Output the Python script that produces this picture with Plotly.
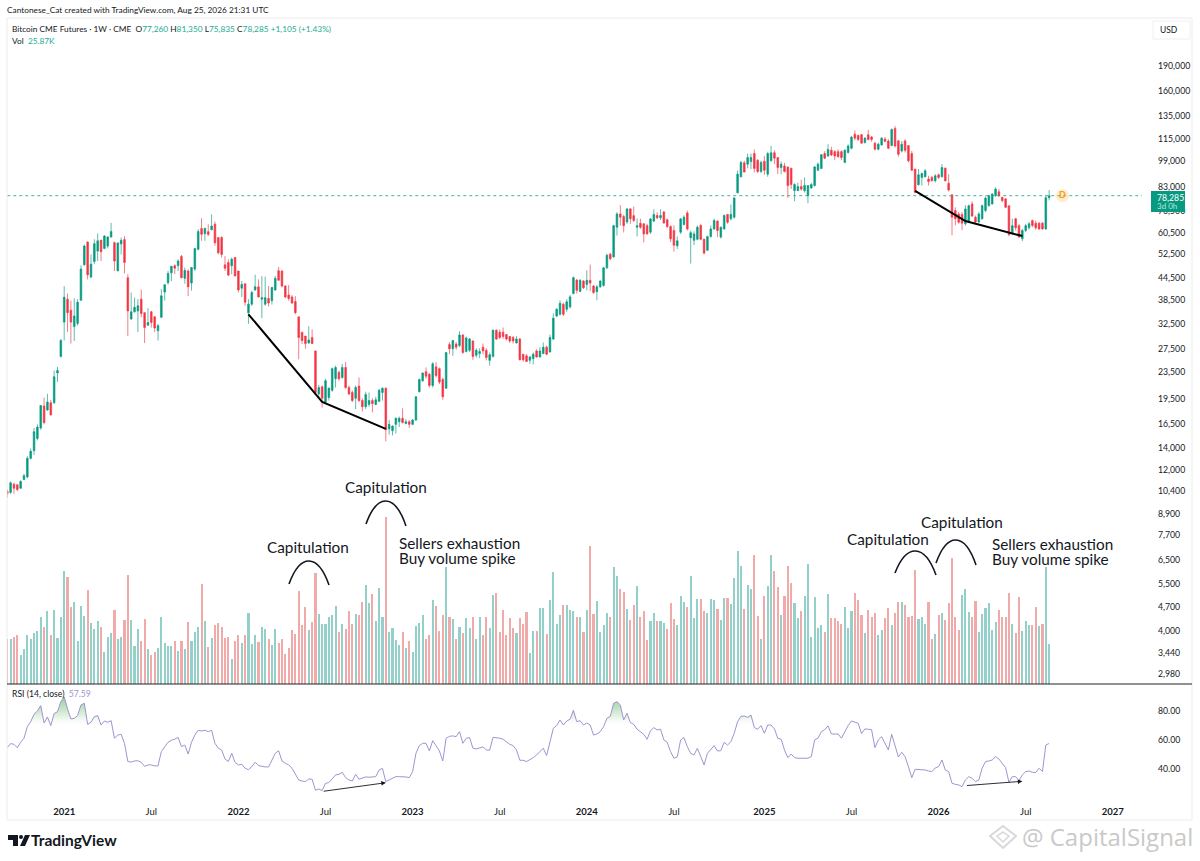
import pandas as pd
import plotly.graph_objects as go

W, H = 1200, 861

# weekly bars, prices in thousand USD
first_week = "2020-09-07"
open_k = [
    10.4,10.3,10.9,10.85,10.6,11.25,11.45,13.0,13.7,14.9,
    16.0,18.6,18.1,19.0,19.0,23.3,26.1,33.0,38.6,35.8,
    32.0,32.7,38.3,48.8,57.0,44.9,49.9,53.6,57.8,54.6,
    55.5,59.0,56.8,46.8,56.3,58.0,44.7,33.7,35.4,35.6,
    38.6,35.2,32.3,35.4,34.2,31.1,34.1,40.5,43.2,46.2,
    48.5,48.5,51.7,44.5,46.8,43.1,47.4,54.3,62.6,60.4,
    61.2,62.0,64.4,58.8,58.8,48.8,49.6,48.5,51.3,46.8,
    41.6,42.9,35.2,37.3,41.1,42.0,38.6,37.3,38.8,38.2,
    41.1,46.9,46.8,42.2,39.7,39.2,38.0,34.2,30.8,30.0,
    28.6,29.7,27.1,20.2,21.2,19.1,19.7,20.7,22.4,23.4,
    22.6,24.2,21.1,20.4,19.6,21.3,19.3,18.5,18.8,19.3,
    18.8,19.2,20.4,21.0,15.9,15.7,16.4,16.7,17.1,16.5,
    16.7,16.4,16.9,20.5,22.1,23.5,23.1,21.4,24.3,24,
    22.3,21.0,28.3,27.5,28.4,28.1,30.2,27.0,27.2,29.0,
    26.3,26.6,27.8,27.2,25.4,26.1,31.2,30.8,30.8,30.3,
    29.9,29.7,28.6,29.4,26.5,26.2,25.4,25.7,27.1,26.0,
    26.6,27.8,26.9,29.4,34.4,34.8,37.3,36.0,36.6,40.1,
    44.0,40.7,43.7,42.7,43.9,42.2,40.6,42,42.4,47.8,
    52.5,51.5,63.1,69.1,67.9,65.4,71.5,68.3,63.1,64.8,
    64.6,63.8,61,65.8,68.4,67.3,70,66.4,63.4,61.7,
    55.6,61,64.3,69.6,58.7,57.7,58.1,63.9,58.1,53.9,
    59.2,62.4,65.8,59,62.4,68.9,66.9,67.6,79.9,89.1,
    98,97.1,98.9,104.4,99.8,92.4,99,90.7,99.4,105,
    101.6,94.9,95.9,95.3,94.5,81,81,83.3,81,78.3,
    82.5,83.9,93.2,94.3,104.4,102.7,106.8,105.8,105.8,105.8,
    98.3,105.2,108.3,119.2,118.2,118.8,112.6,118.8,116.9,112,
    107.6,110.8,115.3,113.8,110.3,124,114,106.3,113.8,110.3,
    104.4,93.9,84.4,88.7,89.1,87.7,88.7,86.7,90.3,89.1,
    94.5,85.2,78.8,70.7,69.1,68.8,64.6,65.4,74,67.6,
    65.4,66.9,70.7,73.1,74,78.3,80.4,77.4,76.6,73.1,
    60.3,66.9,63.8,58.3,61.7,62.9,66.1,64.9,64.9,64.9,
    62.4,77.26,
]
high_k = [
    10.5,11.1,11.0,10.9,11.2,11.7,13.2,13.9,16.0,16.4,
    18.7,19.7,20.2,19.4,23.7,24.3,29.4,42.2,40.1,38.2,
    38.8,38.6,48.6,56.1,57.3,52.4,58.1,60.5,57.8,59.8,
    59.4,65.0,57.2,56.8,58.8,59.4,45.8,40.4,39.0,38.6,
    41.2,35.2,36.3,35.6,34.4,32.6,41.3,42.7,46.8,48.5,
    49,50.7,52.2,47.9,47.3,48.1,54.6,62.3,67.1,62.9,
    64.4,68.9,65.6,59,59.4,51.8,50.7,51.3,51.5,46.8,
    43.7,42.9,38.6,40.9,45.6,44.2,45.2,45.0,42.2,42.0,
    45.2,48.1,47.0,42.5,42.5,39.7,39.4,34.2,30.8,30.0,
    32.1,31.4,27.1,21.5,21.4,22.4,21.1,24.2,24.5,23.7,
    24.8,25.1,21.4,20.7,21.4,22.6,19.6,20.5,20.4,19.6,
    19.8,20.9,21.1,21.1,16.9,16.3,17.2,17.3,18.3,17.0,
    16.9,17.0,19.9,22.4,23.4,24.2,23.3,25.1,25.1,24.2,
    22.6,26.8,28.8,29.2,28.8,31.0,30.4,29.9,29.6,29.1,
    27.6,27.6,28.5,27.6,26.8,31.4,31.4,31.4,31.8,30.4,
    30.0,30.0,30,29.6,26.5,26.5,26.2,26.8,27.4,27.8,
    28.7,28.1,30.3,35.0,36.3,38.3,37.7,38.6,39.7,45.1,
    44.3,44.3,44,47,48.9,42.5,42.5,43.9,48.1,52.7,
    53,64.2,70,73.4,68.7,72,72,72.7,66.9,66.9,
    64.9,64.6,67.2,71.4,69.9,71.4,70.5,67,63.9,63.9,
    59.3,67.2,68.4,70.7,61.7,61.4,63.9,64.6,58.4,59.6,
    63.9,66.9,66.1,63.4,68.9,69.1,73.7,77.7,93,99.4,
    99.4,104.4,104.4,107.5,100.5,99.4,102.7,105.7,110,106.8,
    101.6,98.9,98,95.3,94.5,85.2,85.6,87.3,88.7,83.9,
    85.4,96,98.2,103.9,106.2,111.3,109.4,106.8,107.5,106.8,
    107.5,111.3,117.8,122.3,118.8,119.4,116.9,122.8,117.8,113.3,
    112.6,116.9,116.9,115.3,124,126,114,113.8,115.3,110.3,
    106.3,93.9,93.9,91.7,93.9,89.7,89.7,90.7,91.1,97.1,
    94.9,90.7,78.8,72.3,70,70,73.4,73.7,75.4,68.4,
    70,73.7,77.7,78.8,79.6,82.9,81.9,77.7,77,73.1,
    66.9,67.2,64.6,62.4,64.6,65.4,66.4,66.1,65.4,65.4,
    78.5,81.35,
]
low_k = [
    9.95,10.2,10.2,10.4,10.55,11.2,11.35,12.9,13.3,14.7,
    15.8,16.4,18.0,17.4,18.9,21.9,25.9,29.1,30.8,28.5,
    29.0,32.2,38.2,48.5,44.2,44.5,49.0,50.1,50.1,54.3,
    54.6,58.8,46.8,46.8,52.4,46.0,30.0,33.5,35.2,30.8,
    34.1,28.6,32.2,31.8,30.8,29.1,33.9,38.2,42.6,43.7,
    45.8,46.8,44.5,42.9,39.4,40.9,46.8,53.9,57.5,57.5,
    59.4,61.8,55.6,52.4,51.3,46.8,45.2,45.8,45.2,40.4,
    39.2,36.9,32.6,36.9,40.9,39.0,33.9,36.9,36.7,37.2,
    40.9,43.9,41.8,38.8,38.2,37.3,34.8,25.6,28.4,27.5,
    28.5,28.4,20.2,19.6,18.4,18.9,19.3,20.5,21.1,22.1,
    22.4,20.9,20.0,19.1,18.2,19.1,17.9,18.2,18.5,17.8,
    18.7,19.1,19.3,14.6,15.3,15.2,15.4,16.1,16.5,16.4,
    16.0,16.3,16.8,20.4,21.9,22.4,21.1,21.1,22.6,21.6,
    19.4,20.9,26.5,26.2,27.3,27.8,26.6,26.8,26.9,25.5,
    25.9,25.8,26.5,25.4,24.5,25.9,29.2,29.4,29.4,29.1,
    28.6,28.5,28.5,25.4,25.2,25.1,24.8,24.7,25.9,25.9,
    26.5,26.3,26.8,29.2,34.1,34.5,34.4,35.4,36.2,39.9,
    40.1,40.5,41.4,41,40.8,40,38.3,41.7,42,47.5,
    50.3,51.3,59.6,63.8,60.9,64.6,64.6,65.4,59.3,62.4,
    56.9,60,60.3,65.4,66.7,66.3,64.6,62.8,57,53.4,
    54.4,60.3,63.9,61.7,49.2,55.8,57.7,57.7,52.4,53.7,
    58.8,62,59,58.4,62,64.6,66.1,66.9,79.5,88.7,
    92,94.4,93.9,91.8,91.4,91.4,90.3,89.1,98.9,97.1,
    90.7,90.7,91.8,77.1,82,75.4,81,81,80,74.4,
    82,83.3,92.8,93.9,100.5,102,102.7,99.8,101.6,99.8,
    97.8,104.4,107.4,114.2,113.8,111.8,111.8,114.3,113.3,106.8,
    106.8,110.3,112.8,107.6,109.8,108.8,102.2,105.2,105.2,98.3,
    92.8,79.5,83.9,83.9,88.7,83.9,86.3,85.7,87.7,88.7,
    86.3,80.6,59.7,63.9,64.6,61.9,63.8,64.9,67.6,64.6,
    64.9,66.4,70,72.7,73.7,77.7,77.7,74.8,72,59.3,
    60,61.7,58.7,57.4,61,62,63.1,62,62,62,
    62,75.835,
]
close_k = [
    10.2,11.0,10.6,10.5,11.1,11.55,13.0,13.65,15.6,16.1,
    18.65,16.6,19.1,17.5,22.7,23.7,29.1,39.1,35.2,33.0,
    34.4,37.8,47.4,55.5,45.6,49.0,56.4,57.5,53.4,59.4,
    59.0,61.3,50.1,56.7,57.7,49.6,35.6,35.4,36.5,36.9,
    35.0,31.8,32.9,32.9,31.7,32.2,39.5,42.6,46.0,48.3,
    47.7,50.1,44.7,47.0,42,47.9,54.6,61.3,60.1,62.6,
    60.1,63.6,56.8,53.0,52.4,47.7,45.5,50.7,45.2,41.1,
    42.7,37.8,37.3,40.4,42.0,39.2,39.0,39.0,37.6,41.8,
    44.5,43.9,42.2,39.2,38.8,37.6,35.2,29.7,29.1,28.5,
    29.2,28.5,20.4,21.1,19.6,22.1,21,24.0,24.2,22.4,
    24.2,21.1,20.2,19.3,21.1,19.3,18.5,20.1,19.3,18.9,
    19.4,20.7,21.0,15.8,16.4,16.2,17.1,17.1,16.6,16.7,
    16.4,16.9,19.8,22.3,23.3,22.8,21.4,24.8,22.9,21.9,
    19.8,26.8,27.5,29.1,27.8,30.2,26.8,29.6,29.4,26.1,
    27.2,27,27.1,25.9,26.4,31.2,29.4,29.7,29.9,29.4,
    29.0,29.0,29.4,25.5,25.5,25.2,26.0,26.5,26.0,27.1,
    27.8,26.5,29.7,33.9,36.0,37.5,34.8,37.9,39.2,44.7,
    41.0,43.9,41.7,43.9,43.1,40.4,42,43.7,47.8,52.1,
    50.9,63.8,69.1,67.6,63.8,71.5,66.9,66.1,63.8,63.1,
    60.3,60.3,66.8,68.9,67.3,68.4,65,63.4,58.3,55.8,
    57.5,66.8,67.6,62.4,60.8,60.3,63.1,58.1,52.9,59.2,
    62.4,66.1,61.7,63.1,68.4,65.3,68.9,77,90.7,98.3,
    92,101.6,101.6,94.3,92.4,98.3,93.2,104.4,105,101.2,
    94.9,97.1,92.4,83.9,84.5,84.5,83.3,81.9,84,83.9,
    84.5,95.3,97.1,103.6,101.2,107.4,103.4,102.7,102.2,101.6,
    106.8,110,116.8,116,115,112.1,115.9,115,115,107.6,
    111.3,116,113.5,108.3,123,110,103.9,111.3,106.8,99.4,
    93.2,80.1,90.3,91.1,92.8,86.3,86.7,89.7,88.7,94.9,
    86.7,81.4,67.6,66.9,65.3,64.9,71.5,73.1,68.2,65.4,
    69.1,73.1,77,78.3,79.2,81.9,78.3,75.7,72.3,60,
    63.8,62.9,59,61.7,63.8,64.6,63.9,62.9,62.4,62.4,
    77.18,78.285,
]
# volume in thousands, t = teal bar, r = red bar
volume_k = [
    29,28.9,30.2,31.5,19,22.4,31.9,29.3,33.2,34.1,
    43.6,36.7,47.5,31.9,47.9,29.8,43.6,73.3,69,49.6,
    53.3,27.6,50.5,44,60.8,39.7,35.4,40.6,36.7,20.7,
    30.6,33.2,47.9,29.3,30.2,41.4,70.8,41.4,24.6,35.4,
    27.6,41.8,22.4,19,20.7,23.3,43.1,26.7,24.6,24.6,
    27.6,21.6,28,22.4,40.1,27.6,33.6,36.7,64.7,40.6,
    24.2,29.8,38,39.7,36.7,29.8,30.6,16.4,28,31.9,
    26.7,31.9,46.2,25.9,31.5,27.2,36.7,35.4,29.3,25,
    35.8,26.3,29.3,19.4,23.3,34.9,32.4,60,38.2,50,
    34.9,40.1,72,45.3,38.8,38.8,43.6,44.9,50.5,33.6,
    38.8,35.8,47,38.8,45.3,44.4,53.3,63.8,52.6,58.2,
    41,62.1,43.6,108,33.6,36.2,28.5,25.2,33.6,23.3,
    27.6,20.7,37.5,39.7,44.9,28.9,31.7,54.4,50.5,34.1,
    44.4,75.9,43.1,42.3,29.3,36.7,33.2,42.7,36.2,43.1,
    29.3,43.1,31.5,43.1,36.2,57.4,59.1,33.6,47.9,31.5,
    42.7,36.2,32.8,42.7,38.8,46.6,19.8,34.5,34.1,49,
    49.2,32.4,54.4,72.5,38.8,44.9,50.9,50.9,47.9,47,
    43.1,43.6,33.6,47.9,89.3,45.3,53.5,33.6,38,46.2,
    43.6,75.9,69.9,61.3,59.5,48.3,41.4,50.9,63.4,43.6,
    47.5,28.5,40.6,45.7,41,40.6,39.7,35.4,52.6,41.8,
    38,56.9,53.1,49.6,69.9,42.7,55,55,47,46.2,
    55,54.6,48.7,41.4,55.4,55.6,51.8,68.8,86.3,76.4,
    48.3,63.8,61.3,83.5,44,29.3,56.9,63.4,83.5,73.3,
    63,44.9,56.9,76.4,65.1,52.2,42.7,47,56.9,77.7,
    30.2,56.1,36.2,38,33.6,58.2,42.7,42.7,40.6,38.8,
    49.6,36.2,47.5,59.1,54.4,44.9,32.8,47.9,43.6,45.7,
    31.5,34.9,42.7,49,38,45.7,52.8,53.1,50.9,43.1,
    44,73.8,42.3,43.1,38.8,52.8,28.9,32.4,44.6,45.7,
    41.4,52.2,81.5,43.6,34.9,57.4,61.3,46.6,43.6,53.5,
    33.6,45.3,49.2,52.2,34.9,40.1,47.9,43.1,43.1,58.7,
    38.8,32.8,56.5,34.1,41,38,38,49.6,37.5,38.8,
    75.9,25.87,
]
volume_side = (
    "rtrrtttttt" "trtrttttrr" "ttttrtttrt" "ttrttrrttt" "rrtrrttttt" "rtrtrtttrt"
    "rtrrrrrtrr" "trtttrttrt" "trrrrrrrrr" "trrttttttr" "trrrtrrttr" "tttrttttrt"
    "rttttrrtrr" "rtrtrtrttr" "ttrrttrrrr" "rrtrrrttrt" "trttttrttt" "rtrtrrtttt"
    "rttrrtrrtr" "rrttrttrrr" "tttrtttrrt" "ttrttrtttt" "rttrrtrttr" "rtrrrttrtt"
    "ttttrtrrrr" "tttrrrtrrr" "ttrrtrrtrr" "rrtttrrtrt" "rrrrrtttrr" "ttttttrrrr"
    "trrtttrrtr" "tt"
)
rsi = [
    54.7,57.5,57,54.7,58.4,61.2,69.2,72.6,77.7,80,
    83.7,71.7,75.9,69.9,78.2,79.5,86.4,89.7,81.4,74.5,
    74.9,76.8,84.1,85.3,70.8,72.2,76.1,76.8,70.3,73.1,
    72.2,73.3,61.2,63.4,63.9,57.7,45.1,44.8,45.5,45.7,
    44.6,41.8,42.8,42.8,42.1,42.1,52,55.4,58.4,59.8,
    60.5,61.8,55.4,56.5,50.3,58.4,63.4,66.7,66.2,66.7,
    65.7,66.7,57.7,54.3,53.1,46.9,45.1,50.8,44.6,42.8,
    43.2,40.5,39.5,41.6,44.6,42.3,41.6,41.4,41.4,46.2,
    50.8,52.6,45.5,43.9,42.8,40.5,36.3,32.4,31.7,31.3,
    33.1,32.9,25.3,26.2,25.1,30.1,30.6,33.6,35.9,36.3,
    37.7,34,32.4,31.7,36.3,32.9,33.6,34.5,34.3,34.3,
    34.7,39.3,40.4,31.3,32.4,33.1,34.7,34.7,34.7,34.5,
    34,38.2,50.8,56.1,57.7,57.7,52.4,59.5,56.1,52.4,
    45.5,61.2,62.5,62.8,62.3,65.7,57.7,61.2,61.6,54.3,
    53.8,54.3,55.2,53.1,52.9,61.8,61.6,61.2,60.5,58.9,
    57,56.1,53.1,46,46,45.1,46.2,47.8,49.6,51.9,
    54.3,49.2,57.7,68,69.9,73.8,70.3,73.1,74.3,80.5,
    72.6,73.3,70.3,71.7,70.3,63.4,64.1,65.7,69.2,74.9,
    76.3,85.3,86.4,84.1,73.8,78.4,72,70.8,67.4,65.7,
    63.9,60.5,66.4,68.5,66.9,67.4,60,58.4,51.9,47.4,
    48.3,60,61.6,55.4,50.8,49.7,54.3,48.5,42.8,50.8,
    53.8,56.1,52.4,52.6,58.4,56.5,58.8,64.6,72.6,76.3,
    76.5,75.6,77.2,68.5,67.4,69.9,64.6,70.3,70.3,67.6,
    61.2,60.5,53.1,47.8,50.3,47.8,47.4,47.4,47.4,47.4,
    48.5,60,61.2,65.7,67.1,69.7,64.1,64.1,64.1,61.2,
    65.7,69.9,73.1,72.2,71.5,64.4,67.6,67.4,67.1,54.7,
    60,62.3,57.7,53.1,63.9,56.5,48.3,51.5,48.5,41.6,
    34,39.8,39.8,39.5,39.3,38.6,38.2,40.7,41.6,46.2,
    39.3,38.2,30.1,29.4,29,27.8,32.4,34.7,33.6,31.3,
    32.4,40.5,45.1,45.5,46.2,48.5,46.9,43.9,40.9,30.8,
    34.7,34.7,32,35.9,38.2,38.6,37.7,37.5,40.5,38.2,
    56.5,57.59,
]

# hand drawn trend lines, bar index and price in USD
left_wedge_bars = [72, 94, 113]
left_wedge_price = [34800, 19130, 15900]
right_wedge_bars = [271, 286, 303]
right_wedge_price = [80900, 65850, 59400]

# hand drawn arrows on the RSI, bar index and RSI value
rsi_arrows = [((94, 24.5), (113, 30.5)), ((286, 28.5), (303, 31.5))]

price_ticks = [190000, 160000, 135000, 115000, 99000, 83000, 70500, 60500, 52500, 44500,
               38500, 32500, 27500, 23500, 19500, 16500, 14000, 12000, 10400, 8900,
               7700, 6500, 5500, 4700, 4000, 3440, 2980]
rsi_ticks = [80, 60, 40]
time_ticks = ["2021-01-04", "2021-07-05", "2022-01-03", "2022-07-04", "2023-01-02", "2023-07-03",
              "2024-01-01", "2024-07-01", "2025-01-06", "2025-07-07", "2026-01-05", "2026-07-06",
              "2027-01-04"]
time_labels = ["<b>2021</b>", "Jul", "<b>2022</b>", "Jul", "<b>2023</b>", "Jul",
               "<b>2024</b>", "Jul", "<b>2025</b>", "Jul", "<b>2026</b>", "Jul", "<b>2027</b>"]

UP = "#089981"
DOWN = "#f23645"
TEXT = "#131722"
RSI_LINE = "#a193d0"
FONT = "Lato, sans-serif"

dates = pd.date_range(first_week, periods=len(close_k), freq="7D")


def usd(values):
    return [v * 1000 for v in values]


def px_x(x):
    return x / W


def px_y(y):
    return 1 - y / H


def note(text, x, y, size=8.3, color=TEXT, anchor="left", family=FONT):
    # annotations carry about 2px of padding
    return dict(text=text, x=px_x(x - 2), y=px_y(y), xref="paper", yref="paper", showarrow=False,
                xanchor=anchor, yanchor="middle", font=dict(size=size, color=color, family=family),
                align="left")


def paper_path(path, fill=None, color=None, width=0):
    shape = dict(type="path", path=path, xref="paper", yref="paper", layer="above",
                 line=dict(color=color or "rgba(0,0,0,0)", width=width))
    if fill:
        shape["fillcolor"] = fill
    return shape


def poly(points):
    pts = ["%.5f,%.5f" % (px_x(x), px_y(y)) for x, y in points]
    return "M" + " L".join(pts) + " Z"


def arc(x0, y0, top, x1, y1):
    base = (y0 + y1) / 2
    cy = (top - 0.25 * base) / 0.75
    w = x1 - x0
    return paper_path(
        "M%.5f,%.5f C%.5f,%.5f %.5f,%.5f %.5f,%.5f" % (
            px_x(x0), px_y(y0), px_x(x0 + w * 0.28), px_y(cy),
            px_x(x1 - w * 0.28), px_y(cy), px_x(x1), px_y(y1)),
        color="#131722", width=1.6)


def rect(x0, y0, x1, y1, fill=None, color=None, width=1):
    return dict(type="rect", xref="paper", yref="paper", layer="above",
                x0=px_x(x0), x1=px_x(x1), y0=px_y(y0), y1=px_y(y1),
                fillcolor=fill or "rgba(0,0,0,0)",
                line=dict(color=color or "rgba(0,0,0,0)", width=width))


fig = go.Figure()

fig.add_trace(go.Bar(
    x=dates, y=volume_k, yaxis="y2", width=4.4 * 86400000,
    marker=dict(color=["#93d0ca" if s == "t" else "#f0aaaa" for s in volume_side], line=dict(width=0)),
))
fig.add_trace(go.Scatter(
    x=[dates[0], pd.Timestamp("2027-03-06")], y=[close_k[-1] * 1000] * 2, mode="lines",
    line=dict(color="#1f9e8c", width=1, dash="dot"), opacity=0.8,
))
fig.add_trace(go.Candlestick(
    x=dates, open=usd(open_k), high=usd(high_k), low=usd(low_k), close=usd(close_k),
    increasing=dict(line=dict(color="rgba(8,153,129,0.65)", width=1), fillcolor=UP),
    decreasing=dict(line=dict(color="rgba(242,54,69,0.65)", width=1), fillcolor=DOWN),
    whiskerwidth=0,
))
fig.add_trace(go.Scatter(
    x=dates[left_wedge_bars], y=left_wedge_price, mode="lines", line=dict(color="#000000", width=2),
))
fig.add_trace(go.Scatter(
    x=dates[right_wedge_bars], y=right_wedge_price, mode="lines", line=dict(color="#000000", width=2),
))
fig.add_trace(go.Scatter(
    x=[dates[-1] + pd.Timedelta(weeks=4)], y=[close_k[-1] * 1000], mode="markers+text",
    marker=dict(size=13, color="rgba(255,183,77,0.28)"), text=["<b>D</b>"], textposition="middle center",
    textfont=dict(size=9, color="#f59d12", family=FONT),
))

# RSI with the overbought part filled, fading out toward 70
fig.add_trace(go.Scatter(
    x=dates, y=[70] * len(rsi), yaxis="y3", mode="lines", line=dict(width=0, color="rgba(0,0,0,0)"),
))
fig.add_trace(go.Scatter(
    x=dates, y=[max(v, 70) for v in rsi], yaxis="y3", mode="lines", line=dict(width=0, color="rgba(0,0,0,0)"),
    fill="tonexty",
    fillgradient=dict(type="vertical", colorscale=[[0, "rgba(76,175,80,0)"], [0.15, "rgba(76,175,80,0.04)"], [1, "rgba(76,175,80,0.6)"]]),
))
fig.add_trace(go.Scatter(
    x=dates, y=rsi, yaxis="y3", mode="lines", line=dict(color=RSI_LINE, width=1),
))

annotations = [
    note("Cantonese_Cat created with TradingView.com, Aug 25, 2026 21:31 UTC", 7, 10),
    note('Bitcoin CME Futures · 1W · CME  O<span style="color:#22ab94">77,260</span>'
         ' H<span style="color:#22ab94">81,350</span> L<span style="color:#22ab94">75,835</span>'
         ' C<span style="color:#22ab94">78,285</span>'
         ' <span style="color:#22ab94">+1,105 (+1.43%)</span>', 12, 29),
    note('Vol  <span style="color:#22ab94">25.87K</span>', 12, 41),
    note('RSI (14, close)  <span style="color:%s">57.59</span>' % RSI_LINE, 12, 694, 8.6),
    note("USD", 1160, 30, 8.5),
    note("78,285", 1157, 197, 8.7, "#ffffff"),
    note("3d 0h", 1157, 206, 8, "#b9e6dc"),
    note("Capitulation", 267, 547, 15.3),
    note("Capitulation", 345, 487, 15.3),
    note("Sellers exhaustion", 399, 543, 15.3),
    note("Buy volume spike", 399, 558, 15.3),
    note("Capitulation", 847, 539, 15.3),
    note("Capitulation", 921, 522, 15.3),
    note("Sellers exhaustion", 992, 544, 15.3),
    note("Buy volume spike", 992, 559, 15.3),
    note("<b>TradingView</b>", 31, 840, 15.5, "#131722"),
    note("@ CapitalSignal", 1022, 836, 24, "#c9c9c9", family="'Open Sans', sans-serif"),
]
for (start, end) in rsi_arrows:
    annotations.append(dict(
        x=dates[end[0]], y=end[1], ax=dates[start[0]], ay=start[1], xref="x", yref="y3",
        axref="x", ayref="y3", text="", showarrow=True, arrowhead=2, arrowsize=1, arrowwidth=0.9,
        arrowcolor="#131722",
    ))

shapes = [
    rect(7, 18, 1192, 820, color="#ececec"),
    rect(1153, 21, 1190, 39, color="#f0f0f0"),
    dict(type="line", xref="paper", yref="paper", layer="above", x0=px_x(7), x1=px_x(1192),
         y0=px_y(684), y1=px_y(684), line=dict(color="#222222", width=1)),
    rect(1151, 191, 1185, 212, fill="#089981"),
    arc(289, 584, 561, 329, 585),
    arc(366, 524, 501, 406, 526),
    arc(895, 573, 551, 936, 575),
    arc(936, 563, 540, 976, 565),
    # TradingView mark
    paper_path(poly([(8, 835), (18, 835), (18, 846), (13, 846), (13, 840), (8, 840)]), fill="#131722"),
    paper_path(poly([(20, 846), (25, 835), (30, 835), (25, 846)]), fill="#131722"),
    dict(type="circle", xref="paper", yref="paper", layer="above", x0=px_x(19), x1=px_x(23),
         y0=px_y(835), y1=px_y(839), fillcolor="#131722", line=dict(width=0)),
    # watermark mark
    paper_path(poly([(1003, 826), (1016, 836), (1003, 848), (990, 836)]), color="#d8d8d8", width=2),
    paper_path(poly([(1003, 832), (1009, 836), (1003, 842), (997, 836)]), color="#d8d8d8", width=1.5),
]

fig.update_layout(
    width=W, height=H, margin=dict(l=0, r=0, t=0, b=0), showlegend=False,
    paper_bgcolor="#ffffff", plot_bgcolor="#ffffff", bargap=0,
    font=dict(family=FONT, size=9, color=TEXT),
    annotations=annotations, shapes=shapes,
    xaxis=dict(
        domain=[px_x(7), px_x(1142)], range=["2020-09-06 12:00", "2027-03-06"], anchor="y3",
        tickmode="array", tickvals=time_ticks, ticktext=time_labels, showgrid=False, zeroline=False,
        showline=False, ticks="", rangeslider=dict(visible=False), tickfont=dict(size=9.5, color=TEXT),
        ticklabelstandoff=4,
    ),
    yaxis=dict(
        domain=[px_y(684), px_y(18)], type="log", range=[3.4441, 5.4212], side="right", anchor="x",
        tickmode="array", tickvals=price_ticks, ticktext=[f"{v:,}" for v in price_ticks],
        showgrid=False, zeroline=False, showline=False, ticks="", ticklabelstandoff=15,
        tickfont=dict(size=8.7, color=TEXT),
    ),
    yaxis2=dict(
        domain=[px_y(684), px_y(18)], range=[0, 430.9], overlaying="y", side="right", anchor="x",
        visible=False,
    ),
    yaxis3=dict(
        domain=[px_y(800), px_y(685)], range=[18.6, 97.9], side="right", anchor="x",
        tickmode="array", tickvals=rsi_ticks, ticktext=[f"{v:.2f}" for v in rsi_ticks],
        showgrid=False, zeroline=False, showline=False, ticks="", ticklabelstandoff=15,
        tickfont=dict(size=8.7, color=TEXT),
    ),
)

fig.write_html("out.html", config={"displayModeBar": False},
               post_script="document.body.style.margin='0';document.body.style.overflow='hidden';")
